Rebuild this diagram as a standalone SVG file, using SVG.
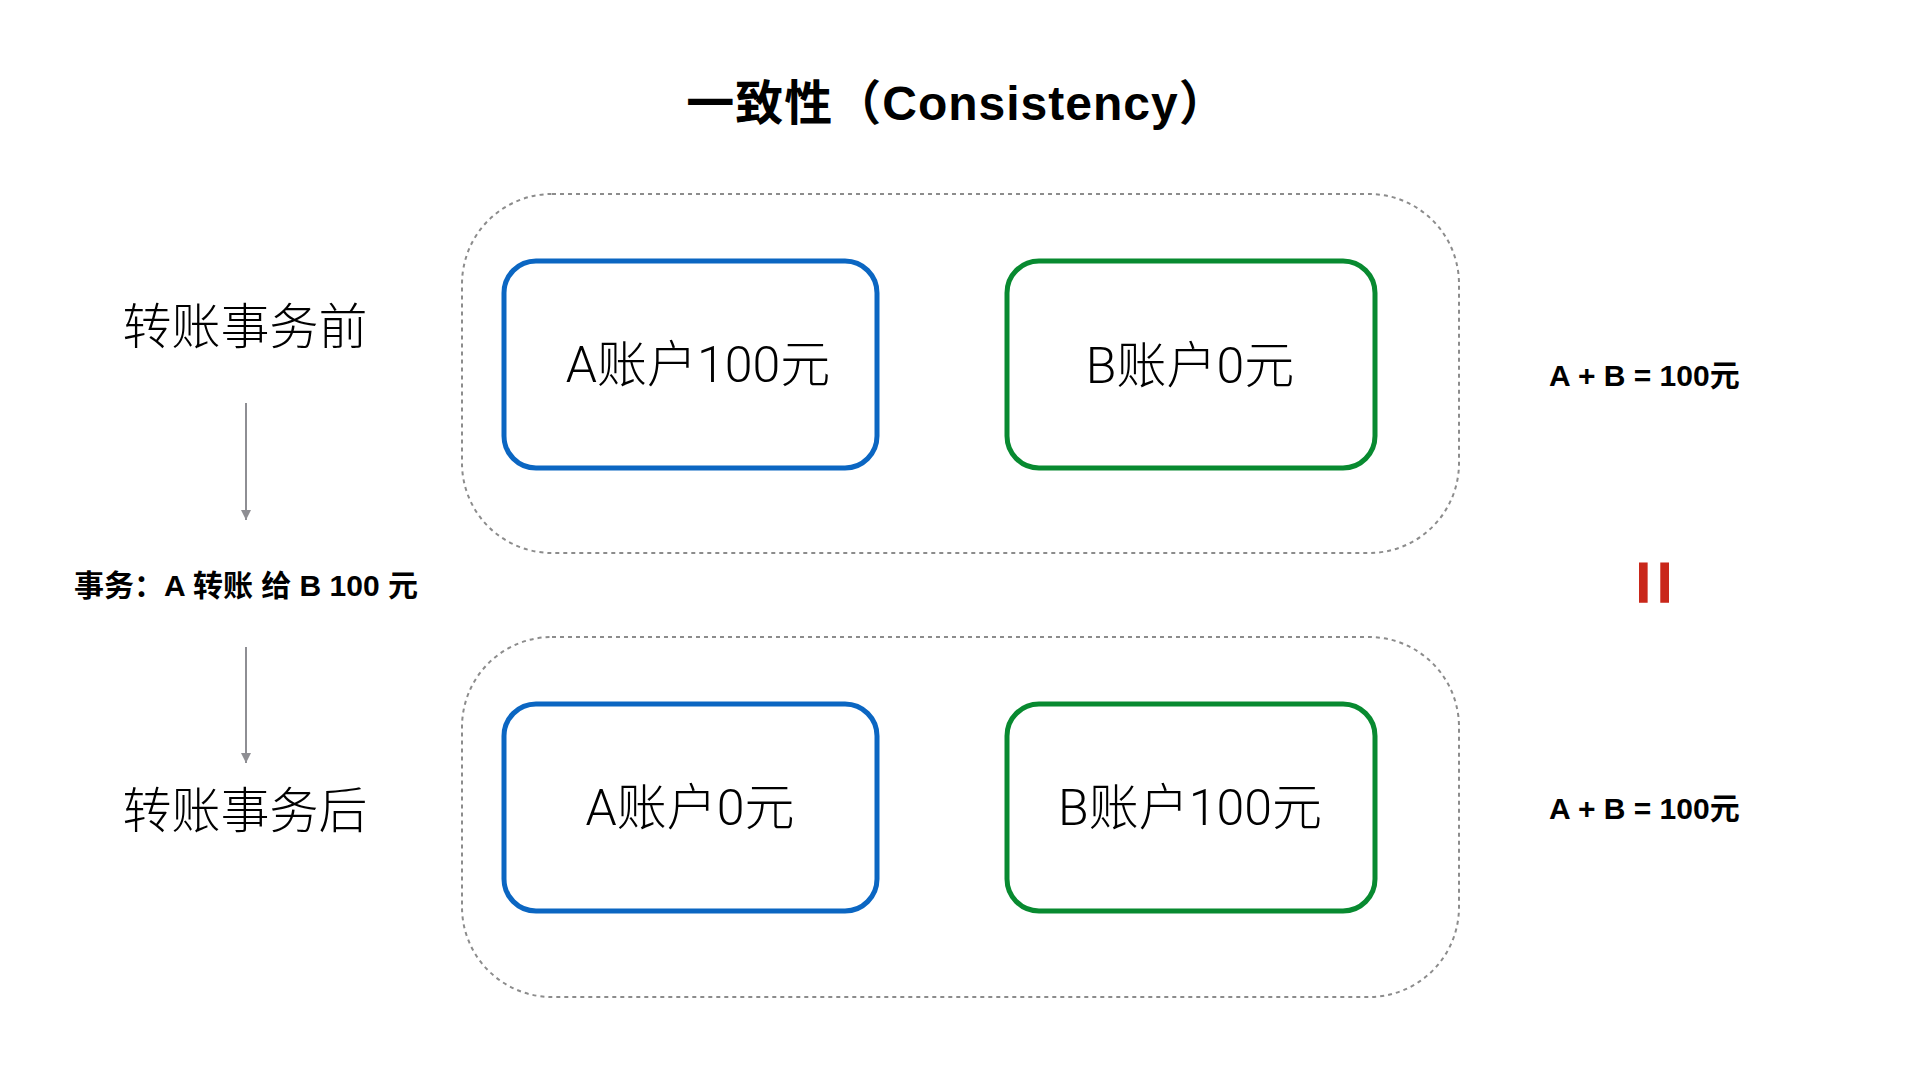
<svg xmlns="http://www.w3.org/2000/svg" width="1920" height="1080" viewBox="0 0 1920 1080">
  <defs>
    <style>
      .bg { fill: #ffffff; }
      .container { fill: none; stroke: #8c8c8c; stroke-width: 2; stroke-dasharray: 4 4; }
      .box-a { fill: #ffffff; stroke: #0b66c2; stroke-width: 5; }
      .box-b { fill: #ffffff; stroke: #088a30; stroke-width: 5; }
      .box-label { font-family: "Roboto", "Liberation Sans", "Noto Sans CJK SC", sans-serif; font-weight: 300; font-size: 50px; fill: #000000; text-anchor: middle; }
      .stage { font-family: "Noto Sans CJK SC", sans-serif; font-weight: 300; font-size: 49px; fill: #000000; text-anchor: middle; }
      .title { font-family: "Liberation Sans", "Noto Sans CJK SC", sans-serif; font-weight: bold; font-size: 48px; letter-spacing: 1px; fill: #000000; text-anchor: middle; }
      .note { font-family: "Liberation Sans", "Noto Sans CJK SC", sans-serif; font-weight: bold; font-size: 30px; fill: #000000; }
      .arrow { stroke: #8e8e93; stroke-width: 2; fill: none; }
      .eq { font-family: "Liberation Sans", sans-serif; font-weight: bold; font-size: 80px; fill: #c9271a; text-anchor: middle; }
    </style>
    <marker id="ah" viewBox="0 0 10 10" refX="10" refY="5" markerWidth="5" markerHeight="5" orient="auto" markerUnits="strokeWidth">
      <path d="M0,0 L10,5 L0,10 Z" fill="#8e8e93"/>
    </marker>
  </defs>

  <rect class="bg" x="0" y="0" width="1920" height="1080"/>

  <g id="title">
    <text class="title" x="957" y="120">一致性（Consistency）</text>
  </g>

  <g id="container-before">
    <rect class="container" x="462" y="194" width="997" height="359" rx="90" ry="90"/>
  </g>
  <g id="container-after">
    <rect class="container" x="462" y="637" width="997" height="360" rx="90" ry="90"/>
  </g>

  <g id="node-a-before">
    <rect class="box-a" x="504" y="261" width="373" height="207" rx="32" ry="32"/>
    <text class="box-label" x="698" y="382">A账户100元</text>
  </g>
  <g id="node-b-before">
    <rect class="box-b" x="1007" y="261" width="368" height="207" rx="32" ry="32"/>
    <text class="box-label" x="1190" y="383">B账户0元</text>
  </g>
  <g id="node-a-after">
    <rect class="box-a" x="504" y="704" width="373" height="207" rx="32" ry="32"/>
    <text class="box-label" x="690" y="825">A账户0元</text>
  </g>
  <g id="node-b-after">
    <rect class="box-b" x="1007" y="704" width="368" height="207" rx="32" ry="32"/>
    <text class="box-label" x="1190" y="825">B账户100元</text>
  </g>

  <g id="label-before">
    <text class="stage" x="245" y="344">转账事务前</text>
  </g>
  <g id="label-transaction">
    <text class="note" x="74" y="596">事务：A 转账 给 B 100 元</text>
  </g>
  <g id="label-after">
    <text class="stage" x="245" y="828">转账事务后</text>
  </g>

  <g id="sum-before">
    <text class="note" x="1549" y="386">A + B = 100元</text>
  </g>
  <g id="sum-after">
    <text class="note" x="1549" y="819">A + B = 100元</text>
  </g>

  <g id="equal-sign">
    <text class="eq" transform="translate(1654.5,582.5) rotate(90)" x="0" y="27">=</text>
  </g>

  <g id="connectors">
    <line class="arrow" x1="246" y1="403" x2="246" y2="520" marker-end="url(#ah)"/>
    <line class="arrow" x1="246" y1="647" x2="246" y2="763" marker-end="url(#ah)"/>
  </g>
</svg>
